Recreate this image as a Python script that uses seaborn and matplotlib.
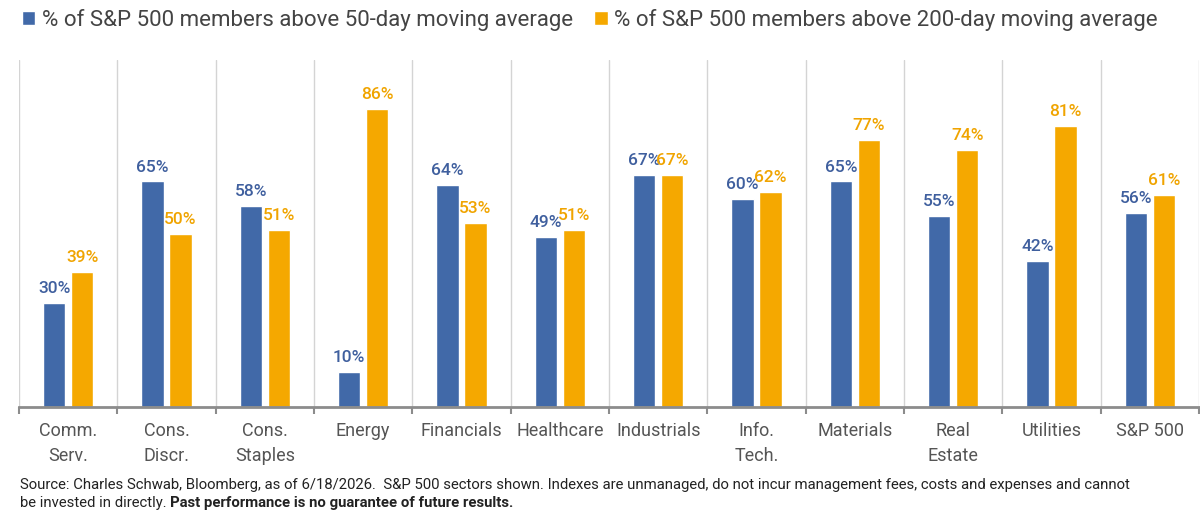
"""Share of S&P 500 members above 50- and 200-day moving averages, by sector."""
import matplotlib

matplotlib.use("Agg")
import matplotlib.pyplot as plt
import numpy as np
import pandas as pd
import seaborn as sns

SECTORS = [
    "Comm.\nServ.", "Cons.\nDiscr.", "Cons.\nStaples", "Energy", "Financials",
    "Healthcare", "Industrials", "Info.\nTech.", "Materials", "Real\nEstate",
    "Utilities", "S&P 500",
]
ABOVE_50D = [30, 65, 58, 10, 64, 49, 67, 60, 65, 55, 42, 56]
ABOVE_200D = [39, 50, 51, 86, 53, 51, 67, 62, 77, 74, 81, 61]
SERIES = [
    "% of S&P 500 members above 50-day moving average",
    "% of S&P 500 members above 200-day moving average",
]

BLUE = "#4169a8"
ORANGE = "#f5a800"
BLUE_TXT = "#3f5f9e"
ORANGE_TXT = "#f0a400"
GREY_TXT = "#555555"

SOURCE_1 = ("Source: Charles Schwab, Bloomberg, as of 6/18/2026.  S&P 500 sectors shown. "
            "Indexes are unmanaged, do not incur management fees, costs and expenses and cannot")
SOURCE_2 = "be invested in directly. "
SOURCE_BOLD = "Past performance is no guarantee of future results."


def main() -> None:
    sns.set_theme(style="white")
    plt.rcParams["font.family"] = ["Roboto", "DejaVu Sans"]

    df = pd.DataFrame({
        "sector": SECTORS * 2,
        "series": [SERIES[0]] * len(SECTORS) + [SERIES[1]] * len(SECTORS),
        "value": ABOVE_50D + ABOVE_200D,
    })

    fig = plt.figure(figsize=(12, 5.21), dpi=100)
    ax = fig.add_axes([19 / 1200, 1 - 407 / 521, 1180 / 1200, 347 / 521])

    sns.barplot(data=df, x="sector", y="value", hue="series",
                palette=[BLUE, ORANGE], width=0.57, gap=0.21,
                saturation=1, ax=ax)

    for cont, vals, col in zip(ax.containers, [ABOVE_50D, ABOVE_200D], [BLUE_TXT, ORANGE_TXT]):
        ax.bar_label(cont, labels=[f"{v}%" for v in vals], padding=5,
                     color=col, fontsize=12.5, fontweight="medium")

    n = len(SECTORS)
    ax.set_xlim(-0.5, n - 0.5)
    ax.set_ylim(0, 100)
    ax.set_yticks([])
    ax.set_xlabel("")
    ax.set_ylabel("")
    ax.set_xticks(np.arange(-0.5, n, 1), minor=True)
    ax.grid(which="minor", axis="x", color="#d4d4d4", lw=1)
    ax.set_axisbelow(True)
    ax.tick_params(axis="x", which="major", length=0, pad=11,
                   labelsize=13, labelcolor=GREY_TXT)
    ax.tick_params(axis="x", which="minor", length=5, width=1.5,
                   color="#8c8c8c", direction="out", bottom=True)
    for lab in ax.get_xticklabels():
        lab.set_linespacing(1.45)
    for side in ["top", "right", "left"]:
        ax.spines[side].set_visible(False)
    ax.spines["bottom"].set_color("#8c8c8c")
    ax.spines["bottom"].set_linewidth(2)

    sns.move_legend(ax, "upper left", bbox_to_anchor=(22 / 1200, 1 - 9 / 521),
                    bbox_transform=fig.transFigure, ncol=2, frameon=False,
                    title=None, fontsize=16.0, handlelength=0.6, handleheight=0.6,
                    handletextpad=0.3, columnspacing=0.95, borderpad=0,
                    borderaxespad=0, labelcolor="#444444")

    fig.text(20 / 1200, 1 - 489 / 521, SOURCE_1, fontsize=10.7,
             color="#222222", va="baseline")
    t2 = fig.text(20 / 1200, 1 - 507 / 521, SOURCE_2, fontsize=10.7,
                  color="#222222", va="baseline")
    ax.annotate(SOURCE_BOLD, xy=(1, 0), xycoords=t2, fontsize=10.7,
                color="#222222", fontweight="bold", va="bottom",
                annotation_clip=False)

    fig.savefig("out.png", dpi=100)
    plt.close(fig)


if __name__ == "__main__":
    main()
